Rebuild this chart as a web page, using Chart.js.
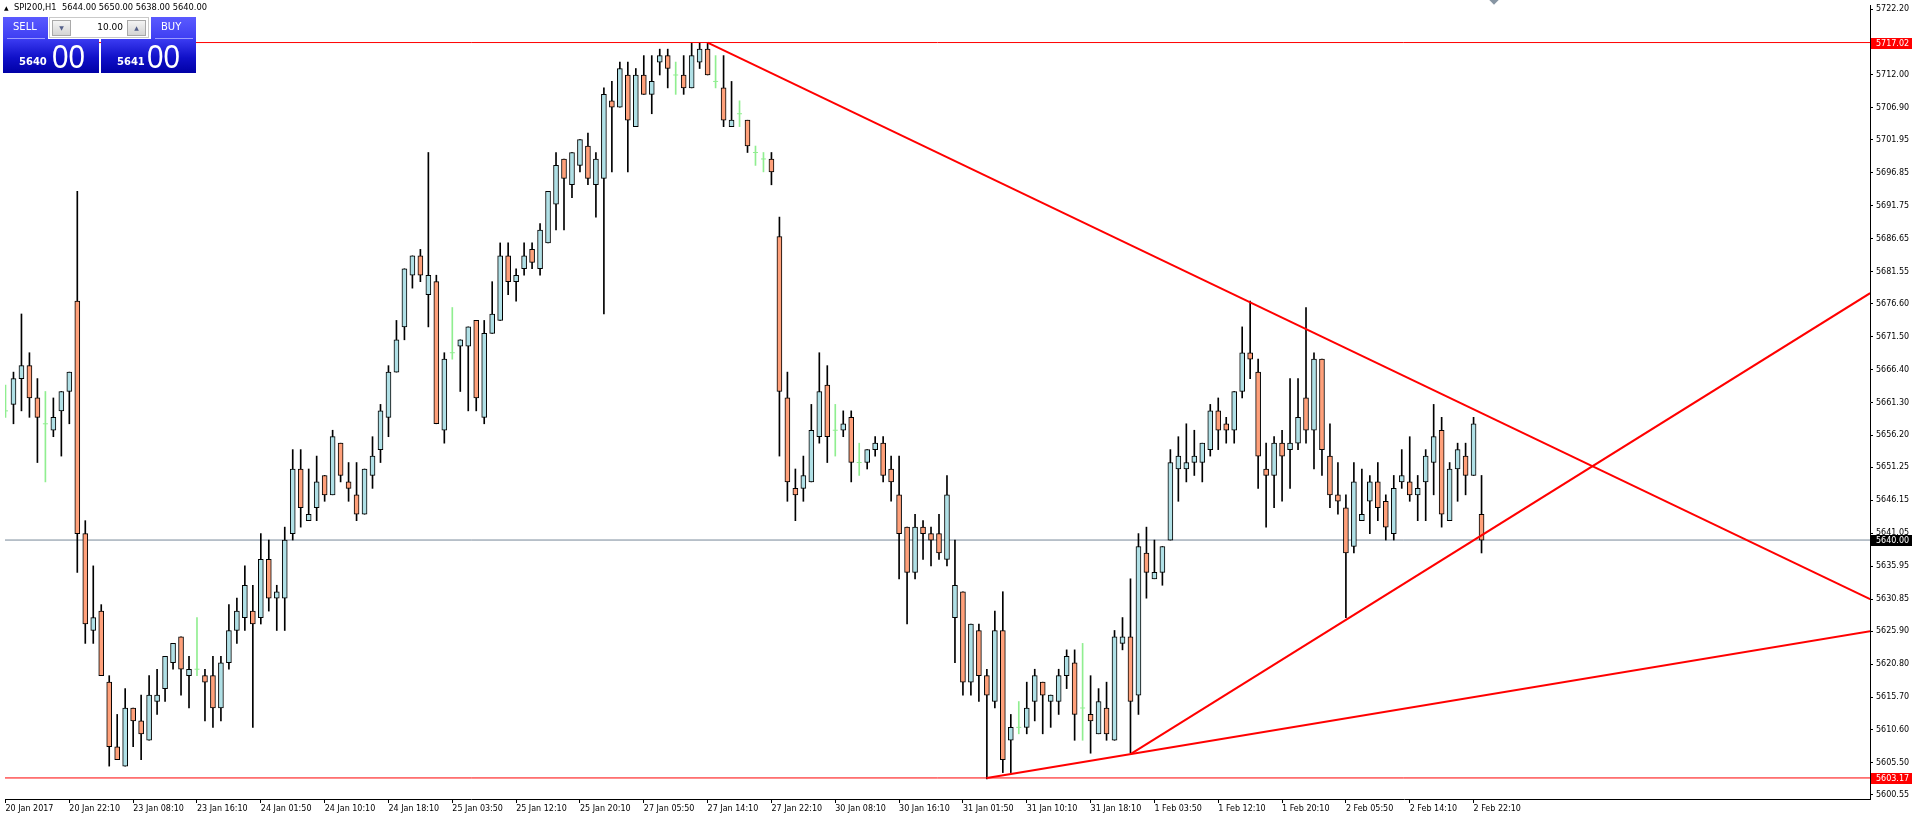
<!DOCTYPE html>
<html>
<head>
<meta charset="utf-8">
<script src="https://cdn.jsdelivr.net/npm/chart.js@4.4.1/dist/chart.umd.min.js"></script>
<style>
  html, body { margin: 0; padding: 0; background: #fff; overflow: hidden; }
  #wrap { position: relative; width: 1912px; height: 820px; }
  #chart { position: absolute; left: 0; top: 0; }
  .abs { position: absolute; }
  #info { left: 4px; top: 1px; font: 8.3px "DejaVu Sans"; line-height: 12px; color: #000; white-space: pre; }
  #info .tri { font-size: 6px; }
  .head { top: 17px; width: 45px; height: 22px; background: linear-gradient(#5a5aff, #3e3ef2); color: #fff;
          font: 10px "DejaVu Sans"; line-height: 20px; }
  .head i { position: absolute; left: 4px; right: 3px; bottom: 0; height: 1px; background: #9c9cff; }
  .box { top: 39px; height: 34px; background: linear-gradient(#3b3bf2, #1010c8 55%, #0000a6); color: #fff; }
  .small { position: absolute; top: 17px; font: bold 10px "DejaVu Sans"; line-height: 12px; }
  .big { position: absolute; top: 0px; font: 34px "Liberation Sans"; line-height: 34px; transform: scaleX(0.87); transform-origin: 0 0; }
  #lot { left: 49px; top: 17px; width: 98px; height: 19px; background: #fff; border: 1px solid #c9c9c9; }
  .btn { position: absolute; top: 2px; width: 17px; height: 14px; background: linear-gradient(#f4f4f4, #d4d4d4);
         border: 1px solid #a9a9a9; color: #55608a; font: 6px "DejaVu Sans"; line-height: 14px; text-align: center; }
  #lotv { position: absolute; right: 25px; top: 3px; font: 9px "DejaVu Sans"; line-height: 13px; color: #000; }
  #mark { left: 1490px; top: -5px; width: 8px; height: 8px; background: #8795a3; transform: rotate(45deg); }
</style>
</head>
<body>
<div id="wrap">
  <canvas id="chart" width="1912" height="820"></canvas>
  <div id="info" class="abs"><span class="tri">&#9650;</span>  SPI200,H1  5644.00 5650.00 5638.00 5640.00</div>
  <div id="mark" class="abs"></div>
  <div class="abs head" style="left:3px"><span style="position:absolute;left:10px">SELL</span><i></i></div>
  <div class="abs head" style="left:151px"><span style="position:absolute;left:10px">BUY</span><i></i></div>
  <div id="lot" class="abs">
    <div class="btn" style="left:2px">&#9660;</div>
    <div id="lotv">10.00</div>
    <div class="btn" style="right:2px">&#9650;</div>
  </div>
  <div class="abs box" style="left:3px;width:96px">
    <span class="small" style="left:16px">5640</span><span class="big" style="left:49px">00</span>
  </div>
  <div class="abs box" style="left:101px;width:95px">
    <span class="small" style="left:16px">5641</span><span class="big" style="left:46px">00</span>
  </div>
</div>
<script>
// SPI200 H1, 20 Jan 2017 - 2 Feb 2017
var tickLabels = ["20 Jan 2017", "20 Jan 22:10", "23 Jan 08:10", "23 Jan 16:10", "24 Jan 01:50",
  "24 Jan 10:10", "24 Jan 18:10", "25 Jan 03:50", "25 Jan 12:10", "25 Jan 20:10", "27 Jan 05:50",
  "27 Jan 14:10", "27 Jan 22:10", "30 Jan 08:10", "30 Jan 16:10", "31 Jan 01:50", "31 Jan 10:10",
  "31 Jan 18:10", "1 Feb 03:50", "1 Feb 12:10", "1 Feb 20:10", "2 Feb 05:50", "2 Feb 14:10", "2 Feb 22:10"];

var priceTicks = [5722.20, 5712.00, 5706.90, 5701.95, 5696.85, 5691.75, 5686.65, 5681.55, 5676.60,
  5671.50, 5666.40, 5661.30, 5656.20, 5651.25, 5646.15, 5641.05, 5635.95, 5630.85, 5625.90,
  5620.80, 5615.70, 5610.60, 5605.50, 5600.55];

var open = [5660,5661,5665,5667,5662,5658,5657,5660,5663,5677,
  5641,5626,5629,5618,5608,5605,5614,5612,5609,5615,
  5617,5621,5625,5619,5620,5619,5619,5614,5621,5626,
  5628,5629,5628,5637,5631,5631,5641,5651,5643,5645,
  5650,5647,5655,5649,5647,5644,5650,5654,5659,5666,
  5673,5681,5684,5678,5680,5657,5669,5670,5670,5674,
  5659,5672,5674,5684,5680,5682,5685,5682,5686,5692,
  5699,5695,5698,5701,5695,5696,5708,5707,5712,5704,
  5712,5709,5714,5715,5712,5712,5710,5714,5716,5711,
  5710,5704,5706,5705,5700,5699,5699,5687,5662,5648,
  5648,5649,5656,5664,5657,5657,5659,5652,5652,5654,
  5655,5651,5647,5642,5635,5642,5641,5641,5637,5628,
  5632,5618,5626,5619,5615,5626,5609,5611,5611,5615,
  5618,5615,5615,5619,5621,5614,5613,5610,5614,5609,
  5624,5625,5616,5638,5634,5635,5640,5651,5651,5652,
  5652,5654,5660,5658,5657,5663,5669,5666,5651,5650,
  5655,5654,5655,5662,5657,5668,5653,5647,5645,5639,
  5643,5646,5649,5646,5641,5649,5649,5647,5649,5652,
  5657,5643,5651,5653,5650,5644];

var high = [5664,5666,5675,5669,5665,5663,5662,5663,5666,5694,
  5643,5636,5630,5619,5613,5617,5614,5616,5619,5620,
  5622,5624,5625,5622,5628,5620,5622,5622,5630,5631,
  5636,5633,5641,5640,5633,5642,5654,5654,5651,5653,
  5650,5657,5655,5652,5652,5651,5656,5661,5667,5674,
  5682,5684,5685,5700,5681,5669,5676,5671,5673,5674,
  5674,5680,5686,5686,5682,5686,5686,5689,5694,5700,
  5699,5700,5702,5703,5700,5710,5711,5714,5714,5713,
  5715,5715,5716,5716,5714,5715,5717,5717,5717,5715,
  5715,5711,5708,5705,5701,5700,5700,5690,5666,5651,
  5653,5661,5669,5667,5661,5660,5660,5655,5654,5656,
  5656,5653,5653,5642,5644,5643,5642,5644,5650,5640,
  5632,5627,5627,5620,5629,5632,5613,5615,5618,5620,
  5618,5616,5620,5623,5623,5624,5619,5617,5618,5626,
  5628,5634,5641,5642,5640,5639,5654,5656,5658,5657,
  5655,5661,5662,5659,5663,5673,5677,5668,5655,5656,
  5657,5665,5665,5676,5669,5668,5658,5652,5647,5652,
  5651,5650,5652,5647,5650,5654,5656,5650,5654,5661,
  5659,5652,5655,5655,5659,5650];

var low = [5659,5658,5660,5659,5652,5649,5656,5653,5658,5635,
  5624,5624,5619,5605,5606,5605,5608,5606,5609,5613,
  5615,5620,5616,5614,5619,5612,5611,5612,5620,5624,
  5626,5611,5627,5629,5626,5626,5640,5642,5643,5643,
  5646,5647,5649,5646,5643,5644,5648,5652,5656,5666,
  5671,5679,5680,5673,5658,5655,5668,5663,5660,5660,
  5658,5672,5674,5678,5677,5681,5682,5681,5686,5688,
  5688,5693,5697,5695,5690,5675,5697,5707,5697,5704,
  5709,5706,5712,5710,5709,5709,5710,5713,5712,5710,
  5704,5704,5704,5700,5698,5697,5695,5653,5646,5643,
  5646,5649,5655,5652,5653,5656,5649,5650,5651,5653,
  5649,5646,5634,5627,5634,5637,5636,5637,5636,5621,
  5616,5616,5615,5603,5614,5604,5604,5610,5610,5612,
  5610,5611,5613,5617,5609,5609,5607,5610,5609,5609,
  5623,5607,5613,5631,5634,5633,5640,5646,5649,5650,
  5649,5653,5654,5655,5655,5662,5665,5648,5642,5645,
  5646,5648,5654,5655,5651,5650,5645,5644,5628,5638,
  5643,5641,5643,5640,5640,5648,5646,5643,5643,5647,
  5642,5643,5646,5647,5650,5638];

var close = [5660,5665,5667,5662,5659,5658,5659,5663,5666,5641,
  5627,5628,5619,5608,5606,5614,5612,5610,5616,5616,
  5622,5624,5620,5620,5620,5618,5614,5621,5626,5629,
  5633,5627,5637,5631,5632,5640,5651,5645,5644,5649,
  5647,5656,5650,5648,5644,5651,5653,5660,5666,5671,
  5682,5684,5681,5681,5658,5668,5669,5671,5673,5662,
  5672,5675,5684,5680,5681,5684,5683,5688,5694,5698,
  5696,5700,5702,5696,5699,5709,5707,5713,5705,5712,
  5709,5711,5715,5713,5712,5710,5715,5716,5712,5711,
  5705,5705,5706,5701,5700,5699,5697,5663,5649,5647,
  5650,5657,5663,5656,5657,5658,5652,5652,5654,5655,
  5650,5649,5641,5635,5642,5641,5640,5638,5647,5633,
  5618,5627,5619,5616,5626,5606,5611,5611,5614,5619,
  5616,5616,5619,5622,5613,5614,5612,5615,5610,5625,
  5625,5615,5639,5635,5635,5639,5652,5653,5652,5653,
  5655,5660,5657,5657,5663,5669,5668,5653,5650,5655,
  5653,5655,5659,5657,5668,5654,5647,5646,5638,5649,
  5644,5649,5645,5642,5648,5650,5647,5648,5653,5656,
  5644,5651,5654,5650,5658,5640];

// horizontal levels and trend lines: [bar, price] end points
var resistance = 5717.02;
var support = 5603.17;
var bid = 5640.00;
var downTrend = [[88, 5717.02], [233.7, 5630.84]];
var steepUp = [[141, 5606.87], [233.7, 5678.22]];
var flatUp = [[123, 5603.17], [233.7, 5625.90]];

var BAR_PX = 8;
var X_MIN = -0.0625;
var X_MAX = X_MIN + 1870 / BAR_PX;

Chart.defaults.font.family = "DejaVu Sans";
Chart.defaults.font.size = 8;
Chart.defaults.color = "#000";

var idx = open.map(function (v, i) { return i; });
var isDoji = function (i) { return open[i] === close[i]; };
var bodyIdx = idx.filter(function (i) { return !isDoji(i); });
var dojiIdx = idx.filter(isDoji);

var wicks = idx.map(function (i) { return { x: i, y: [low[i], high[i]] }; });
var wickColors = idx.map(function (i) { return isDoji(i) ? "#90ee90" : "#000"; });
var bodies = bodyIdx.map(function (i) {
  return { x: i, y: [Math.min(open[i], close[i]), Math.max(open[i], close[i])] };
});
var bodyColors = bodyIdx.map(function (i) { return close[i] > open[i] ? "#b0e0e6" : "#ffa07a"; });
var dojis = dojiIdx.map(function (i) { return { x: i, y: close[i] }; });

function seg(pts) { return pts.map(function (p) { return { x: p[0], y: p[1] }; }); }
function level(v) { return [{ x: X_MIN, y: v }, { x: X_MAX, y: v }]; }
function line(data, color, w, order) {
  return { type: "line", data: data, borderColor: color, borderWidth: w, pointRadius: 0, order: order, fill: false };
}

var axisTags = {
  id: "axisTags",
  afterDraw: function (chart) {
    var ctx = chart.ctx, ys = chart.scales.y;
    [[resistance, "#ff0000"], [bid, "#000000"], [support, "#ff0000"]].forEach(function (t) {
      var py = Math.round(ys.getPixelForValue(t[0]));
      ctx.fillStyle = t[1];
      ctx.fillRect(ys.left + 1, py - 5, ys.right - ys.left - 1, 11);
      ctx.fillStyle = "#fff";
      ctx.font = "8px DejaVu Sans";
      ctx.textBaseline = "middle";
      ctx.textAlign = "left";
      ctx.fillText(t[0].toFixed(2), ys.left + 6, py + 0.5);
    });
  }
};

var chart = new Chart(document.getElementById("chart").getContext("2d"), {
  type: "bar",
  data: {
    datasets: [
      line(level(resistance), "#ff0000", 1, 0),
      line(level(support), "#ff0000", 1, 0),
      line(seg(downTrend), "#ff0000", 2, 0),
      line(seg(steepUp), "#ff0000", 2, 0),
      line(seg(flatUp), "#ff0000", 2, 0),
      {
        data: bodies, backgroundColor: bodyColors, borderColor: "#000", borderWidth: 1,
        borderSkipped: false, barThickness: 5, grouped: false, order: 1
      },
      {
        type: "line", data: dojis, showLine: false, pointStyle: "line", pointRadius: 2.5,
        pointBorderColor: "#90ee90", pointBorderWidth: 1, order: 1
      },
      {
        data: wicks, backgroundColor: wickColors, borderWidth: 0,
        barThickness: 1, grouped: false, order: 2
      },
      line(level(bid), "#778899", 1, 3)
    ]
  },
  options: {
    responsive: false,
    animation: false,
    events: [],
    layout: { padding: 0 },
    plugins: { legend: { display: false }, tooltip: { enabled: false } },
    scales: {
      x: {
        type: "linear", min: X_MIN, max: X_MAX, offset: false,
        grid: { drawOnChartArea: false, drawTicks: true, tickLength: 4, color: "#000", offset: false },
        border: { display: true, color: "#000" },
        afterBuildTicks: function (s) {
          s.ticks = tickLabels.map(function (t, k) { return { value: k * 8 }; });
        },
        afterFit: function (s) {
          s.height = 21;
          s.paddingLeft = 0; s.paddingRight = 0; s.paddingTop = 0; s.paddingBottom = 0;
        },
        ticks: {
          autoSkip: false, maxRotation: 0, minRotation: 0, align: "start", padding: 1,
          callback: function (v, k) { return tickLabels[k]; }
        }
      },
      y: {
        position: "right", min: 5599.91, max: 5722.835,
        grid: { drawOnChartArea: false, drawTicks: true, tickLength: 3, color: "#000" },
        border: { display: true, color: "#000" },
        afterBuildTicks: function (s) {
          s.ticks = priceTicks.map(function (v) { return { value: v }; });
        },
        afterFit: function (s) {
          s.width = 42;
          s.paddingLeft = 0; s.paddingRight = 0; s.paddingTop = 0; s.paddingBottom = 0;
        },
        ticks: {
          autoSkip: false, crossAlign: "near", padding: 3,
          callback: function (v) { return v.toFixed(2); }
        }
      }
    }
  },
  plugins: [axisTags]
});
</script>
</body>
</html>
